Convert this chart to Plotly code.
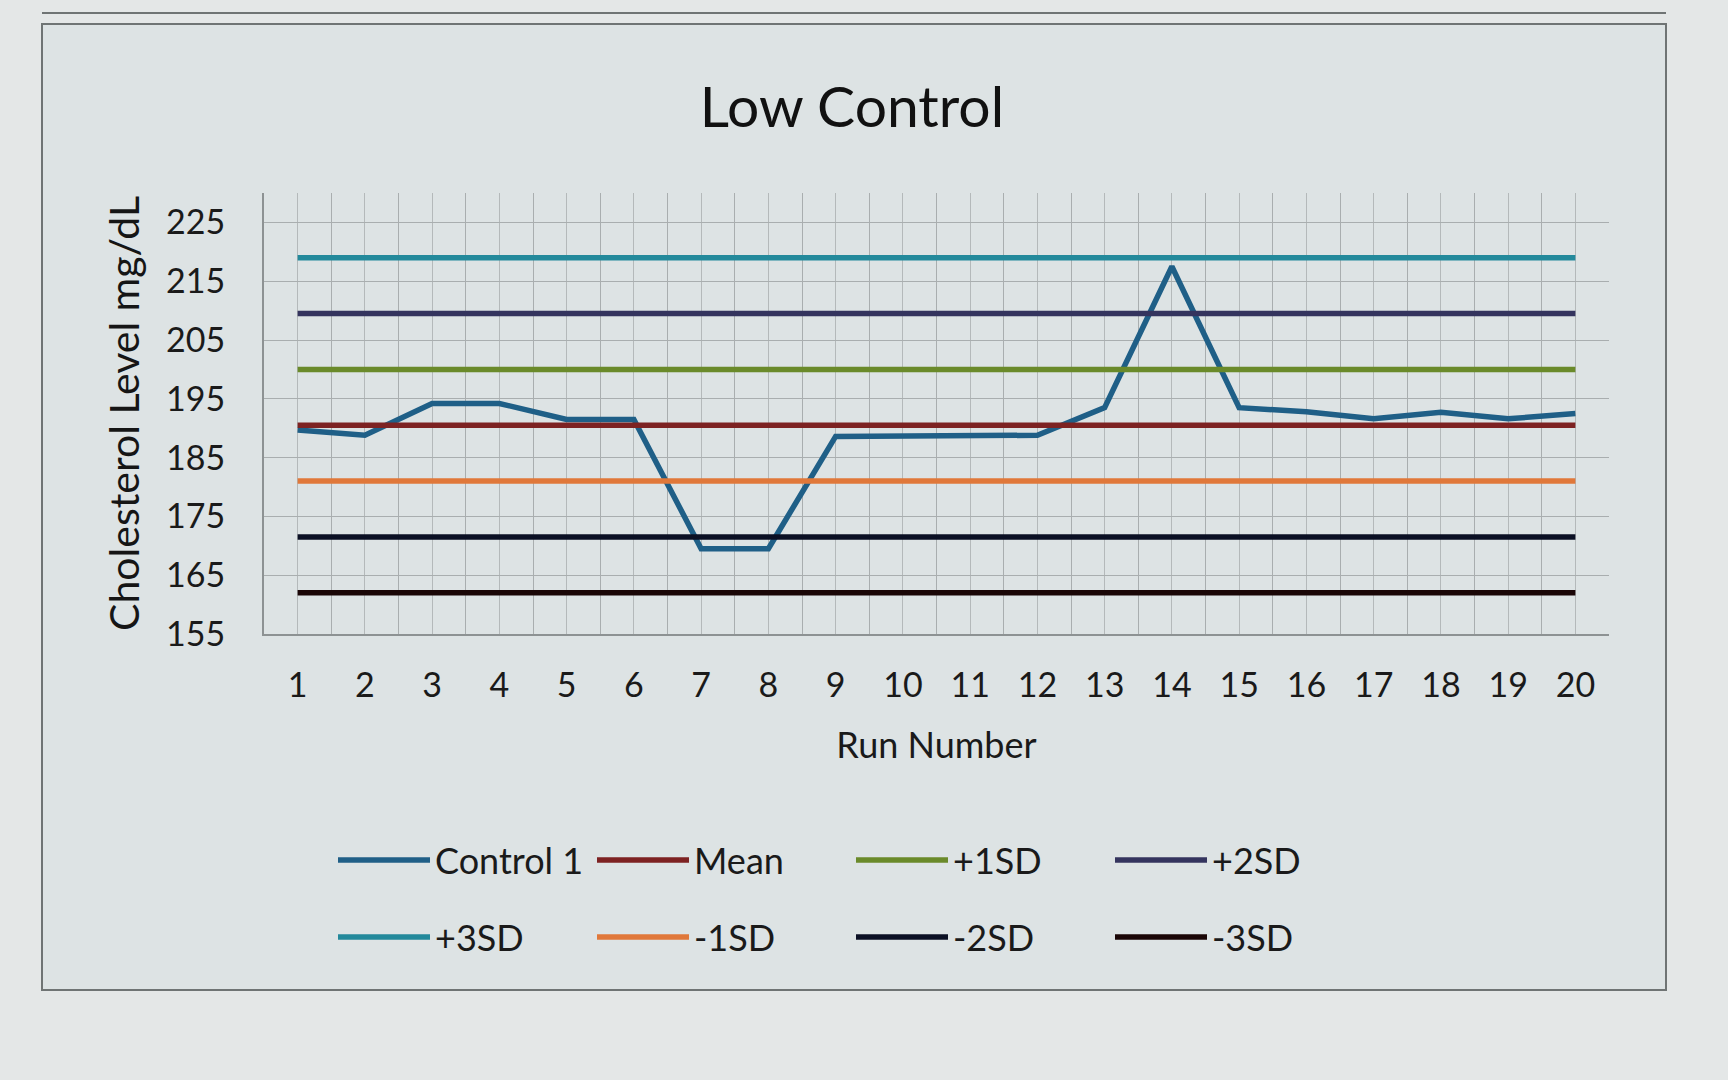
import plotly.graph_objects as go

runs = list(range(1, 21))
control_1 = [189.7, 188.8, 194.2, 194.2, 191.5, 191.5, 169.5, 169.5, 188.6, 188.6,
             188.6, 188.8, 193.5, 217.5, 193.5, 192.8, 191.6, 192.7, 191.6, 192.5]
mean_val = 190.5
sd_val = 9.5
limit_names = ["Mean", "+1SD", "+2SD", "+3SD", "-1SD", "-2SD", "-3SD"]
limit_k = [0, 1, 2, 3, -1, -2, -3]
y_ticks = [155, 165, 175, 185, 195, 205, 215, 225]

colors = {
    "Control 1": "#1f5f87",
    "Mean": "#7d2222",
    "+1SD": "#6a8a2a",
    "+2SD": "#34345e",
    "+3SD": "#23899b",
    "-1SD": "#e0783a",
    "-2SD": "#0b1024",
    "-3SD": "#1a0606",
}
row1 = ["Control 1", "Mean", "+1SD", "+2SD"]

FONT = "Lato, 'Open Sans', sans-serif"
fig = go.Figure()

fig.add_trace(go.Scatter(x=runs, y=control_1, mode="lines", name="Control 1", legend="legend",
                         line=dict(color=colors["Control 1"], width=5.5)))
for name, k in zip(limit_names, limit_k):
    fig.add_trace(go.Scatter(x=runs, y=[mean_val + k * sd_val] * len(runs), mode="lines",
                             name=name, legend="legend" if name in row1 else "legend2",
                             line=dict(color=colors[name], width=5.5)))

L, R, T, B = 264, 119, 193, 446
W, H = 1728, 1080
pw, ph = W - L - R, H - T - B

def px_x(px):
    return (px - L) / pw

def px_y(py):
    return (H - B - py) / ph

leg_common = dict(
    orientation="h", xanchor="left", yanchor="middle",
    entrywidth=152, entrywidthmode="pixels", itemwidth=92,
    font=dict(size=36, color="#1a1a1a"), bgcolor="rgba(0,0,0,0)",
)

fig.update_layout(
    width=W, height=H,
    margin=dict(l=L, r=R, t=T, b=B),
    paper_bgcolor="#e4e7e7",
    plot_bgcolor="#dde3e4",
    font=dict(family=FONT, color="#1a1a1a"),
    title=dict(text="Low Control", xref="container", x=852 / W, xanchor="center",
               y=1 - 107 / H, yanchor="middle", font=dict(size=57, color="#111111")),
    xaxis=dict(
        range=[0.5, 20.5], tickmode="array", tickvals=runs, ticktext=[str(r) for r in runs],
        showgrid=True, gridcolor="#b4b9ba", gridwidth=1,
        minor=dict(tickmode="linear", tick0=0.5, dtick=1, showgrid=True,
                   gridcolor="#a9aeaf", gridwidth=1),
        showline=True, linecolor="#8d9293", linewidth=2,
        ticks="", tickfont=dict(size=34), ticklabelstandoff=20,
        title=dict(text="Run Number", font=dict(size=36), standoff=30),
        zeroline=False,
    ),
    yaxis=dict(
        range=[155, 230], tickmode="array", tickvals=y_ticks,
        showgrid=True, gridcolor="#a9aeaf", gridwidth=1,
        showline=True, linecolor="#8d9293", linewidth=2,
        ticks="", tickfont=dict(size=34), ticklabelstandoff=30,
        title=dict(text="Cholesterol Level mg/dL", font=dict(size=41, color="#151515"), standoff=14),
        zeroline=False,
    ),
    legend=dict(x=px_x(333), y=px_y(860), **leg_common),
    legend2=dict(x=px_x(333), y=px_y(937), **leg_common),
    showlegend=True,
)

# chart area border
fig.add_shape(type="rect", xref="paper", yref="paper",
              x0=px_x(42), x1=px_x(1666), y0=px_y(990), y1=px_y(24),
              line=dict(color="#6f7474", width=2), fillcolor="#dde3e4", layer="below")
# edge of the chart above
fig.add_shape(type="line", xref="paper", yref="paper",
              x0=px_x(42), x1=px_x(1666), y0=px_y(13), y1=px_y(13),
              line=dict(color="#6f7474", width=2))

fig.write_html("out.html")
